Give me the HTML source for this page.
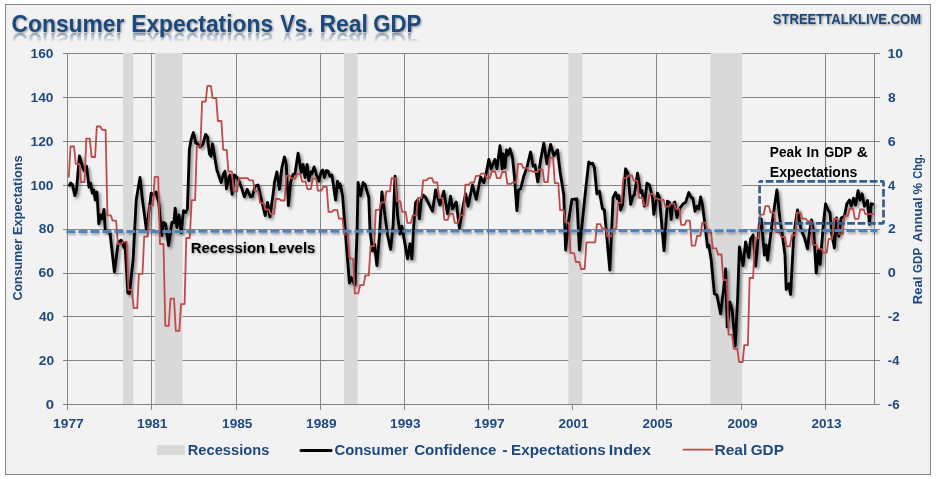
<!DOCTYPE html>
<html lang="en"><head><meta charset="utf-8"><title>Consumer Expectations Vs. Real GDP</title>
<style>html,body{margin:0;padding:0;background:#fff;}body{width:936px;height:479px;overflow:hidden;}svg{display:block;font-family:"Liberation Sans", sans-serif;font-weight:bold;}</style></head><body>
<svg width="936" height="479" viewBox="0 0 936 479">
<defs>
<filter id="shB" x="-5%" y="-5%" width="110%" height="115%"><feGaussianBlur in="SourceAlpha" stdDeviation="1.4"/><feOffset dx="2.4" dy="2.2"/><feComponentTransfer><feFuncA type="linear" slope="0.45"/></feComponentTransfer><feMerge><feMergeNode/><feMergeNode in="SourceGraphic"/></feMerge></filter>
<filter id="shT" x="-5%" y="-30%" width="110%" height="170%"><feGaussianBlur in="SourceAlpha" stdDeviation="1.0"/><feOffset dx="1.3" dy="1.3"/><feComponentTransfer><feFuncA type="linear" slope="0.4"/></feComponentTransfer><feMerge><feMergeNode/><feMergeNode in="SourceGraphic"/></feMerge></filter>
<filter id="shL" filterUnits="userSpaceOnUse" x="60" y="225" width="830" height="14"><feGaussianBlur in="SourceAlpha" stdDeviation="1"/><feOffset dx="0.5" dy="1.8"/><feComponentTransfer><feFuncA type="linear" slope="0.3"/></feComponentTransfer><feMerge><feMergeNode/><feMergeNode in="SourceGraphic"/></feMerge></filter>
<linearGradient id="refG2" gradientUnits="userSpaceOnUse" x1="0" y1="32" x2="0" y2="42.5"><stop offset="0" stop-color="#fff" stop-opacity="0.5"/><stop offset="1" stop-color="#fff" stop-opacity="0"/></linearGradient>
<mask id="refM" maskUnits="userSpaceOnUse" x="0" y="28" width="500" height="30"><rect x="0" y="30" width="500" height="14" fill="url(#refG2)"/></mask>
<filter id="blR" x="-2%" y="-20%" width="104%" height="140%"><feGaussianBlur stdDeviation="0.5"/></filter>
</defs>
<rect x="0" y="0" width="936" height="479" fill="#fff"/>
<rect x="5.5" y="4.5" width="925" height="470" fill="#F2F2F2" stroke="#868686" stroke-width="1"/>
<path d="M63,53.5H880M63,97.5H880M63,141.5H880M63,185.5H880M63,229.5H880M63,273.5H880M63,316.5H880M63,360.5H880M63,404.5H880M67.5,53V410M151.5,53V410M236.5,53V410M320.5,53V410M404.5,53V410M488.5,53V410M572.5,53V410M656.5,53V410M741.5,53V410M825.5,53V410M874.5,53V405" fill="none" stroke="#868686" stroke-width="1" shape-rendering="crispEdges"/>
<rect x="123.0" y="53" width="10.3" height="351" fill="#D9D9D9"/>
<rect x="155.0" y="53" width="27.5" height="351" fill="#D9D9D9"/>
<rect x="344.0" y="53" width="13.6" height="351" fill="#D9D9D9"/>
<rect x="568.3" y="53" width="13.9" height="351" fill="#D9D9D9"/>
<rect x="710.4" y="53" width="31.7" height="351" fill="#D9D9D9"/>
<polyline points="68.8,186.5 70.6,183.1 72.5,184.8 74.8,195.6 76.5,190.0 79.4,156.0 81.2,162.0 83.1,168.8 84.5,171.0 86.5,166.2 89.0,187.2 90.6,183.1 92.2,193.1 93.8,190.0 95.3,200.0 96.9,192.0 98.8,223.8 100.2,215.0 101.9,218.8 104.0,209.4 105.2,230.0 110.0,232.8 114.4,271.9 118.3,242.0 121.2,240.2 124.0,247.5 125.0,243.1 127.8,293.0 129.4,293.6 133.1,260.0 136.2,200.0 140.0,177.5 142.5,200.0 146.5,230.6 151.2,193.1 153.1,195.0 156.0,191.9 158.8,203.0 161.7,235.6 163.5,222.5 165.5,224.0 168.6,245.6 171.9,222.5 173.8,222.8 175.2,208.1 176.9,227.5 179.0,215.0 181.2,232.5 183.5,210.6 185.6,212.5 187.4,208.8 189.4,149.4 191.0,140.0 193.4,132.5 195.9,143.1 197.8,143.8 200.0,146.9 202.8,144.4 205.6,134.4 207.5,136.9 209.4,153.8 211.0,156.2 212.5,143.8 216.9,170.0 219.4,177.5 221.2,182.5 223.1,175.0 225.0,171.2 226.5,188.8 228.8,177.5 230.0,175.0 232.1,194.4 234.4,175.0 238.1,178.8 241.9,188.8 244.4,196.9 247.2,189.4 250.6,196.9 252.5,196.2 255.0,186.2 258.1,185.0 261.2,198.8 265.2,215.6 267.5,202.5 270.0,216.9 273.8,188.8 274.4,182.5 276.9,171.9 279.4,189.4 281.9,167.5 284.4,156.9 286.2,163.8 288.4,205.6 290.6,182.5 293.1,174.4 295.0,173.8 298.1,153.1 301.2,172.5 303.1,164.4 305.0,177.5 307.1,164.4 308.8,180.6 310.6,171.9 311.9,173.8 314.1,166.9 316.9,176.2 318.8,181.2 321.2,171.9 322.8,170.0 324.4,177.5 326.2,170.6 328.1,171.2 330.0,176.2 331.9,175.0 335.6,200.0 337.5,181.2 338.8,187.5 340.0,183.8 342.5,195.0 345.6,235.0 349.4,283.0 351.2,277.5 355.0,285.0 357.0,235.0 358.1,182.5 360.6,195.6 363.1,182.5 365.0,184.4 368.8,197.5 370.0,230.0 372.5,251.0 374.4,244.0 376.9,265.6 379.5,235.0 381.9,191.9 387.5,235.0 390.6,249.4 393.1,225.0 395.0,176.2 397.5,215.0 400.0,234.0 401.9,226.2 407.5,258.8 410.0,243.8 411.9,258.8 413.8,225.0 415.6,202.5 417.5,200.0 419.4,218.8 421.2,200.0 423.1,195.0 425.6,197.5 432.5,211.2 435.6,190.0 440.0,205.0 443.8,191.2 447.5,213.8 450.6,196.2 452.5,208.8 456.2,201.9 459.4,228.0 463.8,202.5 465.6,193.8 468.1,206.2 472.5,185.0 476.2,199.4 480.6,176.9 482.5,181.2 483.8,182.5 485.6,176.2 488.8,159.4 491.2,168.8 493.1,163.8 494.8,159.4 496.9,168.8 500.0,145.6 502.2,168.8 503.1,153.8 505.0,167.5 506.5,150.0 508.1,155.0 510.0,148.8 512.5,157.5 514.4,176.2 516.9,210.6 518.5,190.0 520.6,188.8 523.8,176.2 526.9,167.5 530.6,151.9 533.1,166.2 535.0,165.0 537.8,181.9 540.6,160.0 543.8,143.1 546.9,163.8 550.6,144.4 553.8,155.6 557.5,150.0 560.0,171.2 563.8,195.0 565.6,250.0 568.0,225.0 571.9,199.4 576.9,199.0 579.4,250.0 582.0,225.0 585.6,190.0 588.8,161.9 590.6,163.8 592.5,163.1 594.4,167.5 596.9,193.8 599.4,191.2 602.5,208.8 604.4,210.0 609.8,270.0 613.1,197.5 615.6,192.5 617.5,198.8 618.8,195.6 620.6,210.0 622.5,205.0 625.6,168.8 628.1,173.8 630.6,204.4 632.8,196.2 634.4,195.0 637.5,173.1 640.6,192.5 641.9,190.6 644.4,206.0 646.9,183.1 649.4,185.0 652.5,197.5 653.8,214.4 657.5,193.1 659.4,197.5 664.0,250.6 667.5,201.2 669.4,202.5 671.2,219.4 672.5,205.0 674.8,201.9 676.9,217.5 680.0,208.0 683.1,203.8 685.6,202.5 688.8,192.5 691.2,197.5 692.8,198.1 695.0,211.2 696.9,206.2 698.8,208.8 700.6,196.9 702.5,205.0 705.0,225.0 707.5,247.0 708.8,245.0 711.2,260.0 714.4,293.8 716.9,295.0 720.6,313.8 723.5,290.0 725.6,268.8 727.2,327.0 729.8,302.0 732.2,310.0 735.2,346.0 737.6,300.0 739.4,247.0 743.1,265.6 745.6,241.9 748.8,257.5 750.6,238.8 753.1,235.0 755.6,266.2 759.4,223.8 761.2,218.8 764.4,255.0 766.2,245.0 767.5,260.0 772.5,220.0 776.9,190.0 780.0,220.0 782.5,236.2 785.0,255.0 786.2,289.4 788.8,283.8 790.6,294.4 793.5,240.0 795.0,226.2 797.5,210.0 801.2,230.0 804.4,237.5 807.5,248.8 809.4,232.5 811.5,220.0 813.8,232.5 816.2,273.0 818.5,250.0 820.0,264.4 823.8,220.0 825.6,203.8 828.1,210.0 830.0,212.5 831.5,232.5 834.4,248.0 836.5,218.0 838.8,236.2 841.2,218.0 844.4,216.2 846.9,203.8 849.4,200.0 851.2,206.2 853.5,198.1 855.6,205.0 858.1,190.6 860.0,200.0 862.1,193.8 864.4,206.2 867.5,200.6 869.4,224.4 871.2,203.8 873.8,204.4" fill="none" stroke="#000" stroke-width="2.85" stroke-linejoin="round" stroke-linecap="butt" filter="url(#shB)"/>
<polyline points="68.8,176.8 70.5,146.5 72.3,146.5 74.0,146.5 75.8,163.8 77.5,163.8 79.3,163.8 81.0,182.1 82.8,182.1 84.5,182.1 86.3,138.6 88.1,138.6 89.8,138.6 91.6,157.0 93.3,157.0 95.1,157.0 96.8,126.5 98.6,126.5 100.3,126.5 102.1,129.8 103.8,129.8 105.6,129.8 107.4,215.4 109.1,215.4 110.9,215.4 112.6,220.7 114.4,220.7 116.1,220.7 117.9,244.0 119.6,244.0 121.4,244.0 123.1,241.8 124.9,241.8 126.7,241.8 128.4,289.8 130.2,289.8 131.9,289.8 133.7,308.1 135.4,308.1 137.2,308.1 138.9,273.8 140.7,273.8 142.5,273.8 144.2,236.7 146.0,236.7 147.7,236.7 149.5,205.6 151.2,205.6 153.0,205.6 154.7,176.8 156.5,176.8 158.2,176.8 160.0,244.0 161.8,244.0 163.5,244.0 165.3,325.8 167.0,325.8 168.8,325.8 170.5,298.6 172.3,298.6 174.0,298.6 175.8,330.9 177.5,330.9 179.3,330.9 181.1,304.1 182.8,304.1 184.6,304.1 186.3,238.0 188.1,238.0 189.8,238.0 191.6,200.1 193.3,200.1 195.1,200.1 196.8,146.5 198.6,146.5 200.4,146.5 202.1,101.7 203.9,101.7 205.6,101.7 207.4,85.9 209.1,85.9 210.9,85.9 212.6,98.0 214.4,98.0 216.2,98.0 217.9,121.0 219.7,121.0 221.4,121.0 223.2,149.8 224.9,149.8 226.7,149.8 228.4,171.5 230.2,171.5 231.9,171.5 233.7,191.3 235.5,191.3 237.2,191.3 239.0,178.1 240.7,178.1 242.5,178.1 244.2,178.1 246.0,178.1 247.7,178.1 249.5,180.3 251.2,180.3 253.0,180.3 254.8,191.3 256.5,191.3 258.3,191.3 260.0,202.9 261.8,202.9 263.5,202.9 265.3,209.5 267.0,209.5 268.8,209.5 270.6,213.9 272.3,213.9 274.1,213.9 275.8,199.0 277.6,199.0 279.3,199.0 281.1,200.5 282.8,200.5 284.6,200.5 286.3,175.9 288.1,175.9 289.9,175.9 291.6,178.6 293.4,178.6 295.1,178.6 296.9,174.2 298.6,174.2 300.4,174.2 302.1,181.6 303.9,181.6 305.6,181.6 307.4,189.1 309.2,189.1 310.9,189.1 312.7,178.6 314.4,178.6 316.2,178.6 317.9,190.6 319.7,190.6 321.4,190.6 323.2,186.9 324.9,186.9 326.7,186.9 328.5,211.9 330.2,211.9 332.0,211.9 333.7,209.9 335.5,209.9 337.2,209.9 339.0,218.7 340.7,218.7 342.5,218.7 344.3,234.5 346.0,234.5 347.8,234.5 349.5,258.7 351.3,258.7 353.0,258.7 354.8,293.4 356.5,293.4 358.3,293.4 360.0,285.2 361.8,285.2 363.6,285.2 365.3,275.4 367.1,275.4 368.8,275.4 370.6,246.2 372.3,246.2 374.1,246.2 375.8,209.9 377.6,209.9 379.3,209.9 381.1,202.3 382.9,202.3 384.6,202.3 386.4,191.3 388.1,191.3 389.9,191.3 391.6,178.1 393.4,178.1 395.1,178.1 396.9,201.4 398.7,201.4 400.4,201.4 402.2,211.9 403.9,211.9 405.7,211.9 407.4,222.9 409.2,222.9 410.9,222.9 412.7,215.4 414.4,215.4 416.2,215.4 418.0,197.9 419.7,197.9 421.5,197.9 423.2,180.3 425.0,180.3 426.7,180.3 428.5,178.1 430.2,178.1 432.0,178.1 433.7,182.5 435.5,182.5 437.3,182.5 439.0,197.9 440.8,197.9 442.5,197.9 444.3,219.8 446.0,219.8 447.8,219.8 449.5,213.9 451.3,213.9 453.0,213.9 454.8,222.9 456.6,222.9 458.3,222.9 460.1,215.4 461.8,215.4 463.6,215.4 465.3,184.7 467.1,184.7 468.8,184.7 470.6,182.5 472.4,182.5 474.1,182.5 475.9,175.9 477.6,175.9 479.4,175.9 481.1,173.7 482.9,173.7 484.6,173.7 486.4,178.1 488.1,178.1 489.9,178.1 491.7,171.5 493.4,171.5 495.2,171.5 496.9,178.1 498.7,178.1 500.4,178.1 502.2,172.0 503.9,172.0 505.7,172.0 507.4,183.8 509.2,183.8 511.0,183.8 512.7,182.5 514.5,182.5 516.2,182.5 518.0,163.8 519.7,163.8 521.5,163.8 523.2,167.8 525.0,167.8 526.8,167.8 528.5,170.9 530.3,170.9 532.0,170.9 533.8,172.0 535.5,172.0 537.3,172.0 539.0,169.3 540.8,169.3 542.5,169.3 544.3,182.1 546.1,182.1 547.8,182.1 549.6,157.9 551.3,157.9 553.1,157.9 554.8,183.2 556.6,183.2 558.3,183.2 560.1,210.2 561.8,210.2 563.6,210.2 565.4,222.7 567.1,222.7 568.9,222.7 570.6,253.2 572.4,253.2 574.1,253.2 575.9,262.0 577.6,262.0 579.4,262.0 581.1,269.0 582.9,269.0 584.7,269.0 586.4,242.4 588.2,242.4 589.9,242.4 591.7,242.4 593.4,242.4 595.2,242.4 596.9,224.2 598.7,224.2 600.5,224.2 602.2,228.6 604.0,228.6 605.7,228.6 607.5,236.7 609.2,236.7 611.0,236.7 612.7,228.8 614.5,228.8 616.2,228.8 618.0,202.9 619.8,202.9 621.5,202.9 623.3,178.1 625.0,178.1 626.8,178.1 628.5,175.5 630.3,175.5 632.0,175.5 633.8,180.7 635.5,180.7 637.3,180.7 639.1,197.9 640.8,197.9 642.6,197.9 644.3,205.3 646.1,205.3 647.8,205.3 649.6,193.9 651.3,193.9 653.1,193.9 654.9,198.7 656.6,198.7 658.4,198.7 660.1,199.8 661.9,199.8 663.6,199.8 665.4,206.7 667.1,206.7 668.9,206.7 670.6,203.8 672.4,203.8 674.2,203.8 675.9,208.8 677.7,208.8 679.4,208.8 681.2,224.9 682.9,224.9 684.7,224.9 686.4,220.7 688.2,220.7 689.9,220.7 691.7,245.7 693.5,245.7 695.2,245.7 697.0,235.8 698.7,235.8 700.5,235.8 702.2,222.7 704.0,222.7 705.7,222.7 707.5,232.1 709.2,232.1 711.0,232.1 712.8,248.4 714.5,248.4 716.3,248.4 718.0,254.5 719.8,254.5 721.5,254.5 723.3,280.0 725.0,280.0 726.8,280.0 728.6,334.6 730.3,334.6 732.1,334.6 733.8,348.9 735.6,348.9 737.3,348.9 739.1,362.1 740.8,362.1 742.6,362.1 744.3,345.2 746.1,345.2 747.9,345.2 749.6,278.0 751.4,278.0 753.1,278.0 754.9,238.3 756.6,238.3 758.4,238.3 760.1,214.6 761.9,214.6 763.6,214.6 765.4,206.2 767.2,206.2 768.9,206.2 770.7,212.6 772.4,212.6 774.2,212.6 775.9,232.1 777.7,232.1 779.4,232.1 781.2,236.9 783.0,236.9 784.7,236.9 786.5,246.4 788.2,246.4 790.0,246.4 791.7,235.4 793.5,235.4 795.2,235.4 797.0,212.6 798.7,212.6 800.5,212.6 802.3,218.7 804.0,218.7 805.8,218.7 807.5,221.1 809.3,221.1 811.0,221.1 812.8,244.8 814.5,244.8 816.3,244.8 818.0,248.8 819.8,248.8 821.6,248.8 823.3,252.7 825.1,252.7 826.8,252.7 828.6,238.9 830.3,238.9 832.1,238.9 833.8,218.9 835.6,218.9 837.3,218.9 839.1,234.1 840.9,234.1 842.6,234.1 844.4,215.9 846.1,215.9 847.9,215.9 849.6,208.8 851.4,208.8 853.1,208.8 854.9,218.9 856.7,218.9 858.4,218.9 860.2,209.5 861.9,209.5 863.7,209.5 865.4,214.1 867.2,214.1 868.9,214.1 870.7,214.1 872.4,214.1 874.2,214.1" fill="none" stroke="#BE4B48" stroke-width="1.8" stroke-linejoin="round" stroke-linecap="round"/>
<path d="M66.4,231.6L877.5,230.5" fill="none" stroke="#4F81BD" stroke-width="2.9" stroke-dasharray="9 3" filter="url(#shL)"/>
<rect x="759.6" y="181.4" width="123.9" height="42" rx="1" fill="none" stroke="#385D8A" stroke-width="2.7" stroke-dasharray="7.8 2.6" stroke-dashoffset="5.3"/>
<g mask="url(#refM)"><g transform="translate(0,33) scale(1,-1)" filter="url(#blR)"><text y="0.0" font-size="23.80" fill="#1F497D"><tspan x="11.59" textLength="112.76" lengthAdjust="spacingAndGlyphs">Consumer</tspan> <tspan x="131.20" textLength="141.90" lengthAdjust="spacingAndGlyphs">Expectations</tspan> <tspan x="280.18" textLength="32.77" lengthAdjust="spacingAndGlyphs">Vs.</tspan> <tspan x="319.40" textLength="48.36" lengthAdjust="spacingAndGlyphs">Real</tspan> <tspan x="373.31" textLength="48.01" lengthAdjust="spacingAndGlyphs">GDP</tspan></text></g></g>
<text y="31.8" font-size="23.80" fill="#1F497D" filter="url(#shT)"><tspan x="11.59" textLength="112.76" lengthAdjust="spacingAndGlyphs">Consumer</tspan> <tspan x="131.20" textLength="141.90" lengthAdjust="spacingAndGlyphs">Expectations</tspan> <tspan x="280.18" textLength="32.77" lengthAdjust="spacingAndGlyphs">Vs.</tspan> <tspan x="319.40" textLength="48.36" lengthAdjust="spacingAndGlyphs">Real</tspan> <tspan x="373.31" textLength="48.01" lengthAdjust="spacingAndGlyphs">GDP</tspan></text>
<text y="24.0" font-size="14.30" fill="#1F497D" filter="url(#shT)"><tspan x="772.81" textLength="148.31" lengthAdjust="spacingAndGlyphs">STREETTALKLIVE.COM</tspan></text>
<text y="57.9" font-size="12.50" fill="#1F497D"><tspan x="30.53" textLength="22.90" lengthAdjust="spacingAndGlyphs">160</tspan></text>
<text y="101.9" font-size="12.50" fill="#1F497D"><tspan x="30.53" textLength="22.90" lengthAdjust="spacingAndGlyphs">140</tspan></text>
<text y="145.9" font-size="12.50" fill="#1F497D"><tspan x="30.53" textLength="22.90" lengthAdjust="spacingAndGlyphs">120</tspan></text>
<text y="189.9" font-size="12.50" fill="#1F497D"><tspan x="30.53" textLength="22.90" lengthAdjust="spacingAndGlyphs">100</tspan></text>
<text y="233.0" font-size="12.50" fill="#1F497D"><tspan x="38.79" textLength="15.29" lengthAdjust="spacingAndGlyphs">80</tspan></text>
<text y="277.0" font-size="12.50" fill="#1F497D"><tspan x="38.64" textLength="15.44" lengthAdjust="spacingAndGlyphs">60</tspan></text>
<text y="320.9" font-size="12.50" fill="#1F497D"><tspan x="38.93" textLength="15.15" lengthAdjust="spacingAndGlyphs">40</tspan></text>
<text y="364.9" font-size="12.50" fill="#1F497D"><tspan x="38.79" textLength="15.29" lengthAdjust="spacingAndGlyphs">20</tspan></text>
<text y="408.5" font-size="12.50" fill="#1F497D"><tspan x="45.85" textLength="8.34" lengthAdjust="spacingAndGlyphs">0</tspan></text>
<text y="57.9" font-size="12.50" fill="#1F497D"><tspan x="887.56" textLength="15.53" lengthAdjust="spacingAndGlyphs">10</tspan></text>
<text y="101.9" font-size="12.50" fill="#1F497D"><tspan x="887.99" textLength="7.62" lengthAdjust="spacingAndGlyphs">8</tspan></text>
<text y="145.9" font-size="12.50" fill="#1F497D"><tspan x="887.83" textLength="7.94" lengthAdjust="spacingAndGlyphs">6</tspan></text>
<text y="189.9" font-size="12.50" fill="#1F497D"><tspan x="888.14" textLength="7.19" lengthAdjust="spacingAndGlyphs">4</tspan></text>
<text y="233.0" font-size="12.50" fill="#1F497D"><tspan x="887.98" textLength="7.78" lengthAdjust="spacingAndGlyphs">2</tspan></text>
<text y="277.0" font-size="12.50" fill="#1F497D"><tspan x="887.82" textLength="8.11" lengthAdjust="spacingAndGlyphs">0</tspan></text>
<text y="320.9" font-size="12.50" fill="#1F497D"><tspan x="887.86" textLength="11.91" lengthAdjust="spacingAndGlyphs">-2</tspan></text>
<text y="364.9" font-size="12.50" fill="#1F497D"><tspan x="887.88" textLength="11.49" lengthAdjust="spacingAndGlyphs">-4</tspan></text>
<text y="408.9" font-size="12.50" fill="#1F497D"><tspan x="887.86" textLength="11.91" lengthAdjust="spacingAndGlyphs">-6</tspan></text>
<text y="428.0" font-size="12.50" fill="#1F497D"><tspan x="53.07" textLength="30.64" lengthAdjust="spacingAndGlyphs">1977</tspan></text>
<text y="428.0" font-size="12.50" fill="#1F497D"><tspan x="137.08" textLength="30.36" lengthAdjust="spacingAndGlyphs">1981</tspan></text>
<text y="428.0" font-size="12.50" fill="#1F497D"><tspan x="222.08" textLength="30.36" lengthAdjust="spacingAndGlyphs">1985</tspan></text>
<text y="428.0" font-size="12.50" fill="#1F497D"><tspan x="306.08" textLength="30.50" lengthAdjust="spacingAndGlyphs">1989</tspan></text>
<text y="428.0" font-size="12.50" fill="#1F497D"><tspan x="390.08" textLength="30.50" lengthAdjust="spacingAndGlyphs">1993</tspan></text>
<text y="428.0" font-size="12.50" fill="#1F497D"><tspan x="474.07" textLength="30.64" lengthAdjust="spacingAndGlyphs">1997</tspan></text>
<text y="428.0" font-size="12.50" fill="#1F497D"><tspan x="558.50" textLength="29.94" lengthAdjust="spacingAndGlyphs">2001</tspan></text>
<text y="428.0" font-size="12.50" fill="#1F497D"><tspan x="642.50" textLength="29.94" lengthAdjust="spacingAndGlyphs">2005</tspan></text>
<text y="428.0" font-size="12.50" fill="#1F497D"><tspan x="727.49" textLength="30.07" lengthAdjust="spacingAndGlyphs">2009</tspan></text>
<text y="428.0" font-size="12.50" fill="#1F497D"><tspan x="811.49" textLength="30.07" lengthAdjust="spacingAndGlyphs">2013</tspan></text>
<text transform="translate(22.2,300.50) rotate(-90)" font-size="13.40" fill="#1F497D" textLength="61.49" lengthAdjust="spacingAndGlyphs">Consumer</text><text transform="translate(22.2,235.10) rotate(-90)" font-size="13.40" fill="#1F497D" textLength="79.87" lengthAdjust="spacingAndGlyphs">Expectations</text>
<text transform="translate(921.8,304.22) rotate(-90)" font-size="13.40" fill="#1F497D" textLength="27.66" lengthAdjust="spacingAndGlyphs">Real</text><text transform="translate(921.8,272.96) rotate(-90)" font-size="13.40" fill="#1F497D" textLength="25.09" lengthAdjust="spacingAndGlyphs">GDP</text><text transform="translate(921.8,242.10) rotate(-90)" font-size="13.40" fill="#1F497D" textLength="44.70" lengthAdjust="spacingAndGlyphs">Annual</text><text transform="translate(921.8,194.59) rotate(-90)" font-size="13.40" fill="#1F497D" textLength="11.68" lengthAdjust="spacingAndGlyphs">%</text><text transform="translate(921.8,178.74) rotate(-90)" font-size="13.40" fill="#1F497D" textLength="24.53" lengthAdjust="spacingAndGlyphs">Chg.</text>
<text y="253.4" font-size="15.20" fill="#000" filter="url(#shT)"><tspan x="190.66" textLength="74.47" lengthAdjust="spacingAndGlyphs">Recession</tspan> <tspan x="268.96" textLength="46.39" lengthAdjust="spacingAndGlyphs">Levels</tspan></text>
<text y="156.7" font-size="13.90" fill="#000"><tspan x="769.84" textLength="31.93" lengthAdjust="spacingAndGlyphs">Peak</tspan> <tspan x="806.51" textLength="12.63" lengthAdjust="spacingAndGlyphs">In</tspan> <tspan x="824.19" textLength="27.58" lengthAdjust="spacingAndGlyphs">GDP</tspan> <tspan x="856.88" textLength="11.11" lengthAdjust="spacingAndGlyphs">&amp;</tspan></text>
<text y="176.7" font-size="13.90" fill="#000"><tspan x="769.82" textLength="87.51" lengthAdjust="spacingAndGlyphs">Expectations</tspan></text>
<rect x="157" y="445" width="28" height="10" fill="#D9D9D9"/>
<text y="455.0" font-size="14.90" fill="#1F497D"><tspan x="187.72" textLength="81.59" lengthAdjust="spacingAndGlyphs">Recessions</tspan></text>
<path d="M301,450.6H331" stroke="#000" stroke-width="3" stroke-linecap="round"/>
<text y="455.0" font-size="14.90" fill="#1F497D"><tspan x="334.51" textLength="73.42" lengthAdjust="spacingAndGlyphs">Consumer</tspan> <tspan x="414.20" textLength="82.33" lengthAdjust="spacingAndGlyphs">Confidence</tspan> <tspan x="502.24" textLength="5.46" lengthAdjust="spacingAndGlyphs">-</tspan> <tspan x="511.14" textLength="94.53" lengthAdjust="spacingAndGlyphs">Expectations</tspan> <tspan x="608.87" textLength="42.02" lengthAdjust="spacingAndGlyphs">Index</tspan></text>
<path d="M683.5,449.7H712.5" stroke="#BE4B48" stroke-width="1.8" stroke-linecap="round"/>
<text y="455.0" font-size="14.90" fill="#1F497D"><tspan x="714.41" textLength="32.92" lengthAdjust="spacingAndGlyphs">Real</tspan> <tspan x="750.69" textLength="33.18" lengthAdjust="spacingAndGlyphs">GDP</tspan></text>
</svg></body></html>
